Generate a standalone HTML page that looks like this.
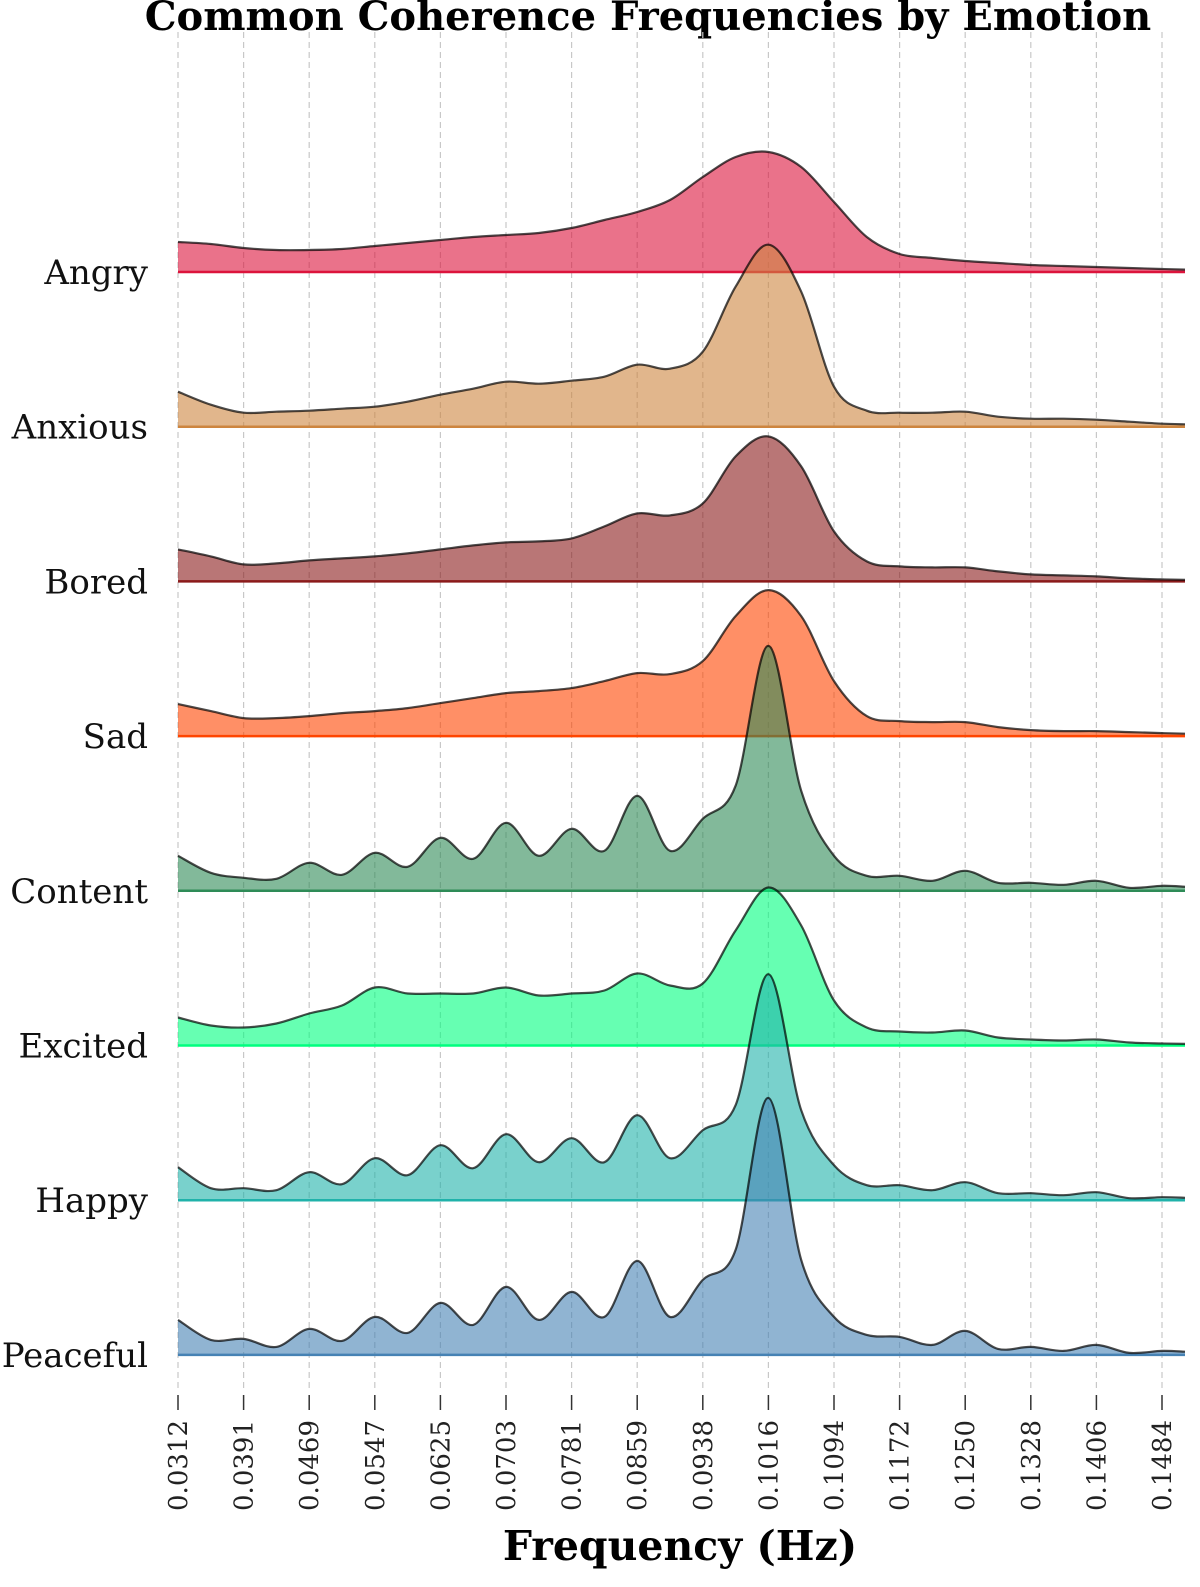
<!DOCTYPE html>
<html><head><meta charset="utf-8"><style>
html,body{margin:0;padding:0;background:#fff;}
svg{display:block;}
</style></head><body>
<svg id="chart" width="1200" height="1587" viewBox="0 0 1200 1587" xmlns="http://www.w3.org/2000/svg">
<text x="648" y="30" text-anchor="middle" font-family="DejaVu Serif, Liberation Serif, serif" font-weight="bold" font-size="40">Common Coherence Frequencies by Emotion</text>
<g id="grid"></g><g id="ridges"></g><g id="xaxis"></g>
<text x="680" y="1560" text-anchor="middle" font-family="DejaVu Serif, Liberation Serif, serif" font-weight="bold" font-size="41">Frequency (Hz)</text>
</svg>
<script>
const tickLabels=["0.0312","0.0391","0.0469","0.0547","0.0625","0.0703","0.0781","0.0859","0.0938","0.1016","0.1094","0.1172","0.1250","0.1328","0.1406","0.1484"];
const categories=["Angry","Anxious","Bored","Sad","Content","Excited","Happy","Peaceful"];
const colors=["#DC143C","#CD853F","#8B1A1A","#FF4500","#2E8B57","#00FF7F","#20B2AA","#4682B4"];
const angry=[30,28,24,22,22,23,26,29,32,35,37,39,44,52,60,72,95,115,120,105,70,35,18,14,11,9,7,6,5,4,3];
const anxious=[35,22,14,15,16,18,20,25,32,38,45,43,46,50,62,58,75,140,182,135,40,16,14,14,15,10,8,8,7,5,3];
const bored=[32,25,17,18,21,23,25,28,32,36,39,40,43,55,68,66,78,125,145,115,50,20,15,14,14,10,7,6,5,3,2];
const sad=[32,25,18,18,20,23,25,28,33,38,43,45,48,55,63,62,75,120,146,120,55,20,15,14,14,9,6,5,5,4,3];
const content=[35,18,13,12,28,16,38,24,53,32,68,35,62,40,95,40,72,105,245,100,35,15,15,10,20,8,8,6,10,3,5];
const excited=[28,20,18,22,32,40,58,52,52,52,58,50,52,55,72,60,62,115,158,120,45,18,14,13,15,8,6,5,6,3,2];
const happy=[33,12,12,10,28,16,42,25,55,32,66,38,62,38,85,42,70,95,226,90,35,15,15,10,18,7,7,5,8,2,3];
const peaceful=[35,15,16,8,26,14,38,22,52,30,68,35,63,38,94,38,75,105,257,95,38,20,18,10,24,6,8,4,10,2,4];
const series=[angry,anxious,bored,sad,content,excited,happy,peaceful];
const fMin=0.03125, fStep=0.00390625;
const NS="http://www.w3.org/2000/svg";
const X0=178, PX_PER_HZ=65.6/0.0078125;
function xs(f){return X0+(f-fMin)*PX_PER_HZ;}
function baseY(i){return 272+i*154.7;}
function ys(v,i){return baseY(i)-v;}
function mk(tag,attrs,parent){const e=document.createElementNS(NS,tag);for(const k in attrs)e.setAttribute(k,attrs[k]);parent.appendChild(e);return e;}
const grid=document.getElementById('grid'),xaxis=document.getElementById('xaxis'),ridges=document.getElementById('ridges');
tickLabels.forEach((t,j)=>{
  const xx=X0+j*65.6;
  const l=mk('line',{x1:xx,x2:xx,y1:32,y2:1392,stroke:'#c8c8c8','stroke-width':1.2,'stroke-dasharray':'6,4'},grid);
  
  
  const tk=mk('line',{x1:xx,x2:xx,y1:1395,y2:1410,stroke:'#333','stroke-width':1.5},xaxis);
  
  
  const tx=mk('text',{transform:`translate(${xx+9},1420) rotate(-90)`,'text-anchor':'end','font-family':'DejaVu Serif, Liberation Serif, serif','font-size':26,fill:'#222'},xaxis);
  tx.textContent=t;
  
  
});
function smoothPath(pts){
  let d=`M${pts[0][0]},${pts[0][1]}`;
  for(let i=0;i<pts.length-1;i++){
    const p0=pts[i-1]||pts[i],p1=pts[i],p2=pts[i+1],p3=pts[i+2]||p2;
    const c1=[p1[0]+(p2[0]-p0[0])/6,p1[1]+(p2[1]-p0[1])/6];
    const c2=[p2[0]-(p3[0]-p1[0])/6,p2[1]-(p3[1]-p1[1])/6];
    d+=` C${c1[0]},${c1[1]} ${c2[0]},${c2[1]} ${p2[0]},${p2[1]}`;
  }
  return d;
}
series.forEach((vals,i)=>{
  const pts=vals.map((v,k)=>[xs(fMin+k*fStep),ys(v,i)]);
  pts.push([1185,ys(vals[vals.length-1]*0.8,i)]);
  const line=smoothPath(pts);
  const g=mk('g',{},ridges);
  
  
  const area=mk('path',{d:line+` L1185,${baseY(i)} L${X0},${baseY(i)} Z`,fill:colors[i],'fill-opacity':0.6,stroke:'none'},g);
  
  
  const bl=mk('line',{x1:X0,x2:1185,y1:baseY(i),y2:baseY(i),stroke:colors[i],'stroke-width':2.5},g);
  
  
  const ol=mk('path',{d:line,fill:'none',stroke:'#000','stroke-opacity':0.7,'stroke-width':2.2},g);
  
  
  const lb=mk('text',{x:148,y:baseY(i)+12,'text-anchor':'end','font-family':'DejaVu Serif, Liberation Serif, serif','font-size':34,fill:'#111'},g);
  lb.textContent=categories[i];
  
  
});
</script>
</body></html>
